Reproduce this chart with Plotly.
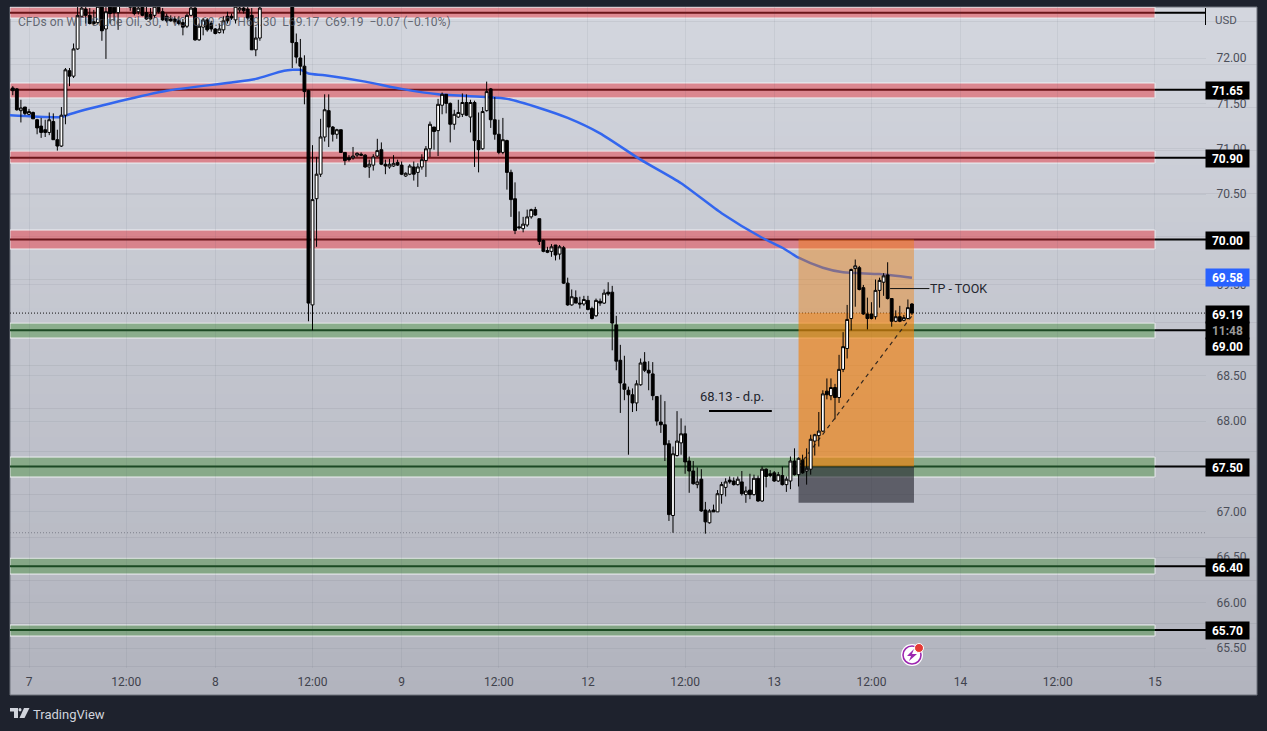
import plotly.graph_objects as go

# 30 min candles, bar 0 is the "7" tick, market days hold 46 bars
bars = list(range(-4, 219))

opens = [
    71.67, 71.66, 71.42, 71.46, 71.38, 71.40, 71.32, 71.25, 71.21, 71.18,
    71.30, 71.10, 71.03, 71.37, 71.86, 71.80, 72.10, 72.46, 72.54, 72.47,
    72.40, 72.39, 72.57, 72.32, 72.57, 72.56, 72.50, 72.62, 72.72, 72.62,
    72.56, 72.51, 72.57, 72.50, 72.48, 72.47, 72.56, 72.51, 72.46, 72.43,
    72.43, 72.41, 72.39, 72.35, 72.47, 72.55, 72.20, 72.34, 72.42, 72.38,
    72.32, 72.28, 72.31, 72.46, 72.46, 72.42, 72.53, 72.55, 72.54, 72.47,
    72.09, 72.22, 72.62, 72.80, 72.75, 72.90, 72.82, 72.75, 72.88, 72.70,
    72.17, 72.00, 71.91, 71.64, 69.28, 70.45, 70.72, 71.13, 71.42, 71.24,
    71.16, 71.21, 70.96, 70.90, 70.90, 70.93, 70.94, 70.93, 70.80, 70.82,
    70.92, 70.99, 70.83, 70.80, 70.81, 70.85, 70.82, 70.70, 70.72, 70.80,
    70.74, 70.80, 70.87, 71.00, 71.24, 71.20, 71.48, 71.60, 71.50, 71.27,
    71.35, 71.38, 71.51, 71.35, 71.51, 71.09, 71.00, 71.42, 71.66, 71.32,
    71.16, 70.96, 71.09, 70.74, 70.45, 70.14, 70.12, 70.16, 70.25, 70.33,
    70.23, 69.99, 69.88, 69.87, 69.94, 69.84, 69.91, 69.52, 69.28, 69.36,
    69.30, 69.29, 69.33, 69.24, 69.16, 69.32, 69.30, 69.42, 69.42, 69.06,
    68.67, 68.41, 68.34, 68.29, 68.20, 68.40, 68.65, 68.56, 68.52, 68.27,
    67.99, 67.96, 67.75, 66.96, 67.62, 67.76, 67.86, 67.56, 67.45, 67.30,
    67.36, 67.02, 66.88, 67.02, 67.00, 67.19, 67.27, 67.35, 67.34, 67.30,
    67.33, 67.19, 67.24, 67.19, 67.37, 67.12, 67.47, 67.42, 67.43, 67.34,
    67.40, 67.30, 67.34, 67.56, 67.41, 67.57, 67.45, 67.47, 67.78, 67.84,
    67.89, 68.33, 68.28, 68.37, 68.26, 68.57, 68.80, 69.13, 69.68, 69.69,
    69.47, 69.18, 69.18, 69.15, 69.44, 69.53, 69.61, 69.35, 69.10, 69.15,
    69.11, 69.13, 69.29,
]
highs = [
    71.69, 71.67, 71.54, 71.46, 71.44, 71.41, 71.33, 71.34, 71.32, 71.40,
    71.39, 71.21, 71.46, 71.89, 71.89, 72.16, 72.58, 72.62, 72.58, 72.55,
    72.53, 72.60, 72.60, 72.60, 72.62, 72.62, 72.64, 72.78, 72.80, 72.70,
    72.64, 72.60, 72.62, 72.57, 72.55, 72.62, 72.60, 72.55, 72.49, 72.47,
    72.46, 72.46, 72.43, 72.49, 72.57, 72.60, 72.38, 72.44, 72.44, 72.41,
    72.33, 72.38, 72.46, 72.51, 72.49, 72.60, 72.60, 72.57, 72.57, 72.55,
    72.34, 72.64, 72.85, 72.95, 72.98, 73.00, 72.90, 72.95, 72.95, 72.90,
    72.27, 72.21, 72.03, 71.65, 71.04, 70.91, 71.33, 71.60, 71.60, 71.25,
    71.22, 71.21, 70.96, 70.93, 71.02, 70.96, 70.96, 70.94, 70.88, 70.94,
    71.11, 71.07, 70.88, 70.89, 70.93, 70.88, 70.86, 70.74, 70.83, 70.86,
    70.84, 70.94, 71.03, 71.30, 71.24, 71.55, 71.62, 71.60, 71.51, 71.43,
    71.54, 71.61, 71.60, 71.54, 71.53, 71.40, 71.46, 71.74, 71.67, 71.57,
    71.32, 71.34, 71.10, 70.77, 70.63, 70.31, 70.25, 70.33, 70.34, 70.36,
    70.23, 70.00, 69.92, 69.95, 69.94, 69.94, 69.93, 69.58, 69.45, 69.44,
    69.37, 69.38, 69.38, 69.26, 69.35, 69.35, 69.45, 69.53, 69.49, 69.16,
    68.84, 68.72, 68.38, 68.36, 68.45, 68.69, 68.76, 68.66, 68.65, 68.27,
    68.29, 68.22, 67.79, 67.72, 68.11, 68.03, 67.95, 67.61, 67.56, 67.49,
    67.47, 67.11, 67.03, 67.08, 67.24, 67.33, 67.37, 67.39, 67.38, 67.39,
    67.45, 67.28, 67.42, 67.41, 67.40, 67.50, 67.48, 67.46, 67.45, 67.44,
    67.50, 67.39, 67.61, 67.70, 67.60, 67.63, 67.70, 67.85, 67.86, 68.10,
    68.34, 68.47, 68.47, 68.41, 68.73, 68.98, 69.28, 69.68, 69.78, 69.71,
    69.50, 69.36, 69.31, 69.56, 69.58, 69.63, 69.75, 69.35, 69.22, 69.27,
    69.17, 69.34, 69.30,
]
lows = [
    71.59, 71.42, 71.29, 71.37, 71.37, 71.33, 71.16, 71.12, 71.13, 71.15,
    71.10, 70.98, 71.02, 71.27, 71.69, 71.78, 72.09, 72.46, 72.38, 72.37,
    72.36, 72.37, 72.19, 71.99, 72.38, 72.41, 72.31, 72.58, 72.60, 72.52,
    72.47, 72.48, 72.46, 72.42, 72.42, 72.44, 72.49, 72.41, 72.39, 72.40,
    72.38, 72.36, 72.25, 72.33, 72.46, 72.19, 72.19, 72.25, 72.29, 72.29,
    72.26, 72.27, 72.27, 72.38, 72.42, 72.38, 72.50, 72.49, 72.42, 72.09,
    72.02, 72.19, 72.60, 72.70, 72.70, 72.78, 72.72, 72.70, 72.65, 71.89,
    71.94, 71.81, 71.49, 69.10, 69.00, 69.92, 70.69, 71.08, 71.02, 71.08,
    71.11, 70.96, 70.82, 70.86, 70.88, 70.91, 70.92, 70.79, 70.68, 70.76,
    70.91, 70.82, 70.72, 70.78, 70.80, 70.81, 70.71, 70.69, 70.71, 70.65,
    70.58, 70.77, 70.69, 70.91, 70.99, 70.92, 71.38, 71.39, 71.07, 71.21,
    71.34, 71.35, 71.36, 71.18, 70.80, 70.74, 70.99, 71.41, 71.23, 71.10,
    70.94, 70.94, 70.55, 70.25, 70.06, 70.11, 70.08, 70.14, 70.23, 70.26,
    69.94, 69.86, 69.85, 69.81, 69.77, 69.78, 69.51, 69.27, 69.27, 69.30,
    69.24, 69.27, 69.22, 69.12, 69.15, 69.27, 69.29, 69.38, 68.78, 68.56,
    68.09, 68.23, 67.63, 68.10, 68.11, 68.39, 68.54, 68.34, 68.23, 67.95,
    67.87, 67.56, 66.90, 66.77, 67.61, 67.63, 67.42, 67.21, 67.30, 67.26,
    67.00, 66.76, 66.87, 67.00, 67.00, 67.09, 67.17, 67.31, 67.29, 67.29,
    67.18, 67.10, 67.14, 67.18, 67.11, 67.11, 67.27, 67.38, 67.33, 67.33,
    67.29, 67.22, 67.25, 67.40, 67.28, 67.42, 67.30, 67.41, 67.62, 67.72,
    67.88, 68.24, 68.23, 68.02, 68.20, 68.54, 68.69, 69.00, 69.26, 69.44,
    69.17, 69.01, 69.12, 69.12, 69.25, 69.38, 69.34, 69.04, 69.09, 69.09,
    69.10, 69.12, 69.17,
]
closes = [
    71.64, 71.43, 71.45, 71.39, 71.41, 71.33, 71.23, 71.18, 71.18, 71.32,
    71.10, 71.03, 71.37, 71.87, 71.80, 72.10, 72.47, 72.55, 72.47, 72.38,
    72.38, 72.57, 72.30, 72.51, 72.49, 72.50, 72.60, 72.72, 72.62, 72.56,
    72.49, 72.55, 72.47, 72.43, 72.43, 72.57, 72.51, 72.42, 72.41, 72.41,
    72.40, 72.38, 72.34, 72.47, 72.55, 72.20, 72.35, 72.42, 72.31, 72.32,
    72.27, 72.32, 72.41, 72.41, 72.44, 72.57, 72.55, 72.52, 72.44, 72.09,
    72.22, 72.55, 72.80, 72.75, 72.90, 72.82, 72.75, 72.88, 72.70, 72.17,
    72.01, 71.91, 71.63, 69.30, 70.44, 70.72, 71.13, 71.43, 71.24, 71.16,
    71.21, 70.96, 70.87, 70.88, 70.92, 70.95, 70.93, 70.80, 70.83, 70.91,
    70.98, 70.83, 70.81, 70.83, 70.84, 70.82, 70.72, 70.73, 70.81, 70.72,
    70.80, 70.88, 71.00, 71.27, 71.19, 71.49, 71.60, 71.50, 71.27, 71.38,
    71.40, 71.51, 71.37, 71.51, 71.09, 70.99, 71.41, 71.63, 71.32, 71.16,
    70.96, 71.10, 70.74, 70.44, 70.10, 70.13, 70.17, 70.25, 70.33, 70.27,
    69.98, 69.87, 69.86, 69.92, 69.83, 69.92, 69.52, 69.28, 69.37, 69.30,
    69.29, 69.34, 69.23, 69.13, 69.33, 69.30, 69.41, 69.40, 69.08, 68.66,
    68.42, 68.35, 68.29, 68.20, 68.41, 68.64, 68.56, 68.53, 68.28, 68.00,
    67.96, 67.74, 66.97, 67.64, 67.78, 67.86, 67.55, 67.45, 67.31, 67.33,
    67.01, 66.89, 67.01, 67.00, 67.20, 67.30, 67.33, 67.33, 67.30, 67.36,
    67.20, 67.23, 67.19, 67.37, 67.12, 67.47, 67.39, 67.40, 67.34, 67.41,
    67.30, 67.36, 67.56, 67.41, 67.59, 67.43, 67.48, 67.80, 67.85, 67.89,
    68.30, 68.29, 68.37, 68.26, 68.57, 68.82, 69.12, 69.67, 69.71, 69.45,
    69.18, 69.13, 69.13, 69.44, 69.55, 69.60, 69.35, 69.10, 69.15, 69.10,
    69.14, 69.25, 69.19,
]

# moving average, read at the bends
ma_bars = [-5, 8, 10, 22, 34, 50, 56, 63, 67, 69, 73, 83, 92, 101, 113, 118, 126,
           133, 141, 151, 161, 171, 181, 186, 190, 196, 201, 210, 218]
ma_values = [71.37, 71.35, 71.38, 71.52, 71.64, 71.73, 71.77, 71.86, 71.87, 71.83,
             71.81, 71.74, 71.66, 71.60, 71.57, 71.55, 71.45, 71.34, 71.17, 70.88,
             70.62, 70.29, 70.02, 69.91, 69.80, 69.69, 69.64, 69.62, 69.58]

# axis ticks, the ones hidden behind a level label carry no text
time_ticks = [0, 24, 46, 70, 92, 116, 138, 162, 184, 208, 230, 254, 278]
time_labels = ["7", "12:00", "8", "12:00", "9", "12:00", "12", "12:00", "13",
               "12:00", "14", "12:00", "15"]
price_ticks = [65.5, 66.0, 66.5, 67.0, 67.5, 68.0, 68.5, 69.0, 69.5, 70.0, 70.5,
               71.0, 71.5, 72.0]
price_labels = ["65.50", "66.00", "66.50", "67.00", "", "68.00", "68.50", "", "69.50",
                "", "70.50", "71.00", "71.50", "72.00"]

# supply and demand zones
red_levels = [72.50, 71.65, 70.90, 70.00]
red_tops = [72.56, 71.725, 70.975, 70.105]
red_bottoms = [72.44, 71.56, 70.843, 69.896]
green_levels = [69.00, 67.50, 66.40, 65.70]
green_tops = [69.08, 67.604, 66.49, 65.754]
green_bottoms = [68.915, 67.384, 66.315, 65.632]
zone_end_bar = 278

# position tool
pos_start, pos_end = 190, 218.5
pos_target, pos_entry, pos_stop = 70.00, 67.50, 67.10
last_price = 69.19
session_low = 66.77
dp_level = 68.11
tp_level = 69.46

BG = "#1e222d"
X_RANGE = [-4.69, 290.6]
Y_RANGE = [65.28, 72.562]
L, T, R, B = 10, 7, 1206, 668


def px(x):
    return (x - L) / (R - L)


def py(y):
    return (B - y) / (B - T)


def pixel_path(points):
    return "M" + " L".join(f"{px(a):.5f},{py(b):.5f}" for a, b in points) + " Z"


shapes = []

# panel background, light at the top and darker at the bottom
steps = 48
for k in range(steps):
    f = k / (steps - 1)
    col = f"rgb({211 - 33 * f:.0f},{214 - 34 * f:.0f},{222 - 32 * f:.0f})"
    y0 = 7 + (695 - 7) * k / steps
    y1 = 7 + (695 - 7) * (k + 1) / steps + 0.5
    shapes.append(dict(type="rect", xref="paper", yref="paper", x0=px(10), x1=px(1257),
                       y0=py(y0), y1=py(min(y1, 695)), fillcolor=col, line_width=0,
                       layer="below"))
shapes.append(dict(type="rect", xref="paper", yref="paper", x0=px(10), x1=px(1257),
                   y0=py(7), y1=py(695), line=dict(color="#6e727d", width=1), layer="below"))


def add_zones(levels, tops, bottoms, fill, inner):
    for lev, top, bot in zip(levels, tops, bottoms):
        shapes.append(dict(type="rect", x0=X_RANGE[0], x1=zone_end_bar, y0=bot, y1=top,
                           fillcolor=fill, line=dict(color="#f0f1f4", width=1), layer="below"))
        shapes.append(dict(type="line", x0=X_RANGE[0], x1=zone_end_bar, y0=lev, y1=lev,
                           line=dict(color=inner, width=2), layer="below"))
        shapes.append(dict(type="line", x0=zone_end_bar, x1=X_RANGE[1], y0=lev, y1=lev,
                           line=dict(color="#000000", width=2), layer="below"))


add_zones(red_levels, red_tops, red_bottoms, "rgba(233,50,60,0.47)", "#6b1519")
add_zones(green_levels, green_tops, green_bottoms, "rgba(70,145,60,0.45)", "#1b4a22")

# dotted price lines
shapes.append(dict(type="line", x0=X_RANGE[0], x1=X_RANGE[1], y0=last_price, y1=last_price,
                   line=dict(color="#101010", width=1, dash="1px,2px"), layer="below"))
shapes.append(dict(type="line", x0=X_RANGE[0], x1=X_RANGE[1], y0=session_low, y1=session_low,
                   line=dict(color="#7c7f8a", width=1, dash="1px,2px"), layer="below"))

# tick on the axis edge next to the top level
shapes.append(dict(type="line", xref="paper", yref="paper", x0=px(1205.5), x1=px(1205.5),
                   y0=py(8), y1=py(25), line=dict(color="#000000", width=1)))

# drawn annotations lines
shapes.append(dict(type="line", x0=167.9, x1=183.4, y0=dp_level, y1=dp_level,
                   line=dict(color="#000000", width=2), layer="below"))
shapes.append(dict(type="line", x0=212.6, x1=222.3, y0=tp_level, y1=tp_level,
                   line=dict(color="#111111", width=1)))

# lightning badge
shapes += [
    dict(type="circle", xref="paper", yref="paper", x0=px(901), x1=px(923), y0=py(666), y1=py(644),
         fillcolor="#ffffff", line_width=0),
    dict(type="circle", xref="paper", yref="paper", x0=px(903), x1=px(921), y0=py(664), y1=py(646),
         fillcolor="#ffffff", line=dict(color="#9c27b0", width=1.6)),
    dict(type="path", xref="paper", yref="paper", fillcolor="#9c27b0", line_width=0,
         path=pixel_path([(914, 649), (907, 656), (911, 656), (909, 661), (917, 654), (912, 654)])),
    dict(type="circle", xref="paper", yref="paper", x0=px(914.5), x1=px(923.5), y0=py(652.5), y1=py(643.5),
         fillcolor="#e53935", line=dict(color="#ffffff", width=1)),
]

# TradingView logo
logo = "#d1d4dc"
shapes += [
    dict(type="path", xref="paper", yref="paper", fillcolor=logo, line_width=0,
         path=pixel_path([(10, 708), (18, 708), (18, 718), (14, 718), (14, 711.5), (10, 711.5)])),
    dict(type="circle", xref="paper", yref="paper", x0=px(18.5), x1=px(21.5), y0=py(711.5), y1=py(708),
         fillcolor=logo, line_width=0),
    dict(type="path", xref="paper", yref="paper", fillcolor=logo, line_width=0,
         path=pixel_path([(24, 708), (29.5, 708), (24.5, 718), (19.5, 718)])),
]

fig = go.Figure()

# first subplot: MA and position boxes, candles sit in the overlay above it
fig.add_trace(go.Scatter(x=ma_bars, y=ma_values, mode="lines", hoverinfo="skip",
                         line=dict(color="#3366ee", width=2.5, shape="spline", smoothing=0.6)))


def add_box(y0, y1, fill):
    fig.add_trace(go.Scatter(x=[pos_start, pos_end, pos_end, pos_start, pos_start],
                             y=[y0, y0, y1, y1, y0], mode="lines", line_width=0,
                             fill="toself", fillcolor=fill, hoverinfo="skip"))


add_box(last_price, pos_target, "rgba(245,124,0,0.4)")
add_box(pos_entry, last_price, "rgba(245,124,0,0.61)")
add_box(pos_stop, pos_entry, "rgba(30,30,40,0.6)")
fig.add_trace(go.Scatter(x=[pos_start, pos_end], y=[pos_entry, last_price], mode="lines",
                         hoverinfo="skip", line=dict(color="#33271e", width=1.2, dash="4px,4px")))

fig.add_trace(go.Candlestick(
    x=bars, open=opens, high=highs, low=lows, close=closes,
    xaxis="x2", yaxis="y2", whiskerwidth=0,
    increasing=dict(line=dict(color="#000000", width=1), fillcolor="#ffffff"),
    decreasing=dict(line=dict(color="#000000", width=1), fillcolor="#000000"),
))


def price_label(text, y, bg="#000000", color="#ffffff"):
    return dict(text=f"<b>{text}</b>", xref="paper", yref="paper", x=px(1227), y=py(y),
                xanchor="center", yanchor="middle", showarrow=False, width=43, height=17,
                bgcolor=bg, borderpad=0, font=dict(family="Roboto", size=12, color=color))


annotations = [
    price_label("71.65", 90.5),
    price_label("70.90", 158.5),
    price_label("70.00", 240.5),
    price_label("69.58", 277.5, bg="#2962ff"),
    price_label("69.19", 314),
    price_label("11:48", 330, color="#9a9a9a"),
    price_label("69.00", 346),
    price_label("67.50", 467),
    price_label("66.40", 567),
    price_label("65.70", 630.5),
    dict(text="USD", xref="paper", yref="paper", x=px(1225.5), y=py(20), xanchor="center",
         yanchor="middle", showarrow=False, font=dict(family="Roboto", size=11.5, color="#50535e")),
    dict(text="CFDs on WTI Crude Oil, 30, TVC  O69.30  H69.30  L69.17  C69.19  −0.07 (−0.10%)",
         xref="paper", yref="paper", x=px(16), y=py(22), xanchor="left", yanchor="middle",
         showarrow=False, font=dict(family="Roboto", size=12.1, color="rgba(70,74,85,0.8)")),
    dict(text="68.13 - d.p.", x=173.5, y=68.27, xanchor="center", yanchor="middle", showarrow=False,
         font=dict(family="Roboto", size=13, color="#23262e")),
    dict(text="TP - TOOK", x=222, y=tp_level, xanchor="left", yanchor="middle", showarrow=False,
         font=dict(family="Roboto", size=12.5, color="#23262e")),
    dict(text="TradingView", xref="paper", yref="paper", x=px(31), y=py(714), xanchor="left",
         yanchor="middle", showarrow=False, font=dict(family="Roboto", size=13, color="#d1d4dc")),
]

GRID = "rgba(60,64,80,0.07)"
fig.update_layout(
    width=1267, height=731, showlegend=False,
    margin=dict(l=L, r=1267 - R, t=T, b=731 - B, pad=0),
    paper_bgcolor=BG, plot_bgcolor="rgba(0,0,0,0)",
    boxgap=0.3, boxgroupgap=0,
    shapes=shapes, annotations=annotations,
    xaxis=dict(range=X_RANGE, tickvals=time_ticks, ticktext=time_labels, showgrid=True, gridcolor=GRID,
               gridwidth=1, zeroline=False, showline=False, ticks="outside", ticklen=3,
               tickcolor="rgba(0,0,0,0)", tickfont=dict(family="Roboto", size=12, color="#3f424c"),
               rangeslider=dict(visible=False), fixedrange=True),
    yaxis=dict(range=Y_RANGE, side="right", tickvals=price_ticks, ticktext=price_labels, showgrid=True,
               gridcolor=GRID, gridwidth=1, zeroline=False, showline=False, ticks="outside", ticklen=7,
               tickcolor="rgba(0,0,0,0)", tickfont=dict(family="Roboto", size=12, color="#4b4e58"),
               fixedrange=True),
    xaxis2=dict(range=X_RANGE, overlaying="x", anchor="y2", visible=False,
                rangeslider=dict(visible=False), fixedrange=True),
    yaxis2=dict(range=Y_RANGE, overlaying="y", anchor="x2", visible=False, fixedrange=True),
)

# the page body keeps its default margin otherwise and the figure shifts by 8px
fig.write_html("out.html", config=dict(displayModeBar=False),
               post_script="document.body.style.margin='0';")
